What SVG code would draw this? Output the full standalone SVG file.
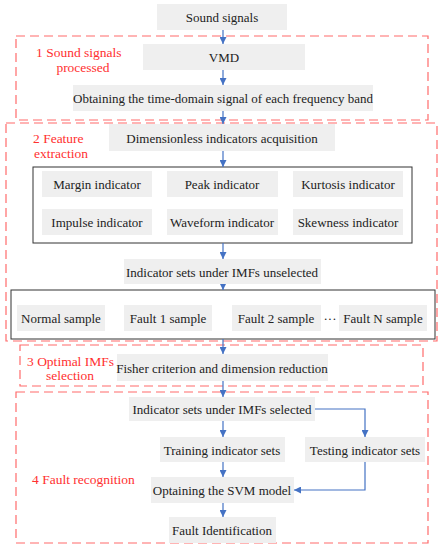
<svg xmlns="http://www.w3.org/2000/svg" width="446" height="550" viewBox="0 0 446 550">
<defs>
<marker id="ah" viewBox="0 0 10 10" refX="10" refY="5" markerWidth="7" markerHeight="7" markerUnits="userSpaceOnUse" orient="auto">
<path d="M0,0 L10,5 L0,10 z" fill="#4472c4"/>
</marker>
</defs>
<style>
.nodebox{fill:#efefef;stroke:none}
.nodetext{font-family:'Liberation Serif',serif !important;font-size:13px;fill:#222;text-anchor:middle;dominant-baseline:central}
.stagetext{font-family:'Liberation Serif',serif !important;font-size:13.5px;fill:#ff3030}
.stagebox{fill:none;stroke:#ff6b6b;stroke-width:1.2;stroke-dasharray:9,5}
.groupbox{fill:none;stroke:#333;stroke-width:1}
.link{fill:none;stroke:#4472c4;stroke-width:1.2;marker-end:url(#ah)}
</style>
<rect width="446" height="550" fill="#fff"/>
<g id="stages">
<rect class="stagebox" x="16" y="36" width="412" height="84"/>
<rect class="stagebox" x="6" y="123" width="431" height="218"/>
<rect class="stagebox" x="20" y="345" width="403" height="41"/>
<rect class="stagebox" x="16" y="392" width="412" height="151"/>
<text class="stagetext" style="font-family:'Liberation Serif',serif" x="36" y="57">1 Sound signals</text>
<text class="stagetext" style="font-family:'Liberation Serif',serif" x="83" y="72" text-anchor="middle">processed</text>
<text class="stagetext" style="font-family:'Liberation Serif',serif" x="33" y="143">2 Feature</text>
<text class="stagetext" style="font-family:'Liberation Serif',serif" x="34" y="158">extraction</text>
<text class="stagetext" style="font-family:'Liberation Serif',serif" x="27" y="366">3 Optimal IMFs</text>
<text class="stagetext" style="font-family:'Liberation Serif',serif" x="70" y="380" text-anchor="middle">selection</text>
<text class="stagetext" style="font-family:'Liberation Serif',serif" x="32" y="484">4 Fault recognition</text>
</g>
<g id="groups">
<rect class="groupbox" x="33" y="167" width="379" height="76"/>
<rect class="groupbox" x="11" y="290" width="424" height="49"/>
</g>
<g id="connectors">
<line class="link" x1="223" y1="30" x2="223" y2="44"/>
<line class="link" x1="223" y1="70" x2="223" y2="85"/>
<line class="link" x1="223" y1="111" x2="223" y2="124"/>
<line class="link" x1="223" y1="151" x2="223" y2="167"/>
<line class="link" x1="223" y1="243" x2="223" y2="259"/>
<line class="link" x1="223" y1="284" x2="223" y2="290"/>
<line class="link" x1="223" y1="339" x2="223" y2="354"/>
<line class="link" x1="223" y1="381" x2="223" y2="397"/>
<line class="link" x1="223" y1="421" x2="223" y2="437"/>
<polyline class="link" points="315,409 365,409 365,437"/>
<line class="link" x1="223" y1="462" x2="223" y2="477"/>
<polyline class="link" points="365,462 365,490 294,490"/>
<line class="link" x1="223" y1="503" x2="223" y2="517"/>
</g>
<g id="n-sound"><rect class="nodebox" x="157" y="4" width="130" height="26"/><text class="nodetext" style="font-family:'Liberation Serif',serif" x="222" y="17">Sound signals</text></g>
<g id="n-vmd"><rect class="nodebox" x="143" y="44" width="162" height="26"/><text class="nodetext" style="font-family:'Liberation Serif',serif" x="224" y="57">VMD</text></g>
<g id="n-obtain"><rect class="nodebox" x="73" y="85" width="300" height="26"/><text class="nodetext" style="font-family:'Liberation Serif',serif" x="223" y="98">Obtaining the time-domain signal of each frequency band</text></g>
<g id="n-dimless"><rect class="nodebox" x="109" y="124" width="226" height="27"/><text class="nodetext" style="font-family:'Liberation Serif',serif" x="222" y="138">Dimensionless indicators acquisition</text></g>
<g id="n-margin"><rect class="nodebox" x="42" y="171" width="110" height="26"/><text class="nodetext" style="font-family:'Liberation Serif',serif" x="97" y="184">Margin indicator</text></g>
<g id="n-peak"><rect class="nodebox" x="167" y="171" width="111" height="26"/><text class="nodetext" style="font-family:'Liberation Serif',serif" x="222" y="184">Peak indicator</text></g>
<g id="n-kurt"><rect class="nodebox" x="293" y="171" width="110" height="26"/><text class="nodetext" style="font-family:'Liberation Serif',serif" x="348" y="184">Kurtosis indicator</text></g>
<g id="n-impulse"><rect class="nodebox" x="42" y="209" width="110" height="26"/><text class="nodetext" style="font-family:'Liberation Serif',serif" x="97" y="222">Impulse indicator</text></g>
<g id="n-wave"><rect class="nodebox" x="167" y="209" width="111" height="26"/><text class="nodetext" style="font-family:'Liberation Serif',serif" x="222" y="222">Waveform indicator</text></g>
<g id="n-skew"><rect class="nodebox" x="293" y="209" width="110" height="26"/><text class="nodetext" style="font-family:'Liberation Serif',serif" x="348" y="222">Skewness indicator</text></g>
<g id="n-unsel"><rect class="nodebox" x="124" y="259" width="197" height="25"/><text class="nodetext" style="font-family:'Liberation Serif',serif" x="222" y="272">Indicator sets under IMFs unselected</text></g>
<g id="n-normal"><rect class="nodebox" x="17" y="305" width="88" height="26"/><text class="nodetext" style="font-family:'Liberation Serif',serif" x="61" y="318">Normal sample</text></g>
<g id="n-f1"><rect class="nodebox" x="124" y="305" width="88" height="26"/><text class="nodetext" style="font-family:'Liberation Serif',serif" x="168" y="318">Fault 1 sample</text></g>
<g id="n-f2"><rect class="nodebox" x="232" y="305" width="89" height="26"/><text class="nodetext" style="font-family:'Liberation Serif',serif" x="276" y="318">Fault 2 sample</text></g>
<text class="nodetext" style="font-family:'Liberation Serif',serif" x="330" y="318">···</text>
<g id="n-fn"><rect class="nodebox" x="339" y="305" width="88" height="26"/><text class="nodetext" style="font-family:'Liberation Serif',serif" x="383" y="318">Fault N sample</text></g>
<g id="n-fisher"><rect class="nodebox" x="117" y="354" width="211" height="27"/><text class="nodetext" style="font-family:'Liberation Serif',serif" x="222" y="368">Fisher criterion and dimension reduction</text></g>
<g id="n-sel"><rect class="nodebox" x="129" y="397" width="186" height="24"/><text class="nodetext" style="font-family:'Liberation Serif',serif" x="222" y="409">Indicator sets under IMFs selected</text></g>
<g id="n-train"><rect class="nodebox" x="160" y="437" width="125" height="25"/><text class="nodetext" style="font-family:'Liberation Serif',serif" x="222" y="450">Training indicator sets</text></g>
<g id="n-test"><rect class="nodebox" x="305" y="437" width="120" height="25"/><text class="nodetext" style="font-family:'Liberation Serif',serif" x="365" y="450">Testing indicator sets</text></g>
<g id="n-svm"><rect class="nodebox" x="151" y="477" width="143" height="26"/><text class="nodetext" style="font-family:'Liberation Serif',serif" x="222" y="490">Optaining the SVM model</text></g>
<g id="n-fid"><rect class="nodebox" x="169" y="517" width="107" height="26"/><text class="nodetext" style="font-family:'Liberation Serif',serif" x="222" y="530">Fault Identification</text></g>
</svg>
